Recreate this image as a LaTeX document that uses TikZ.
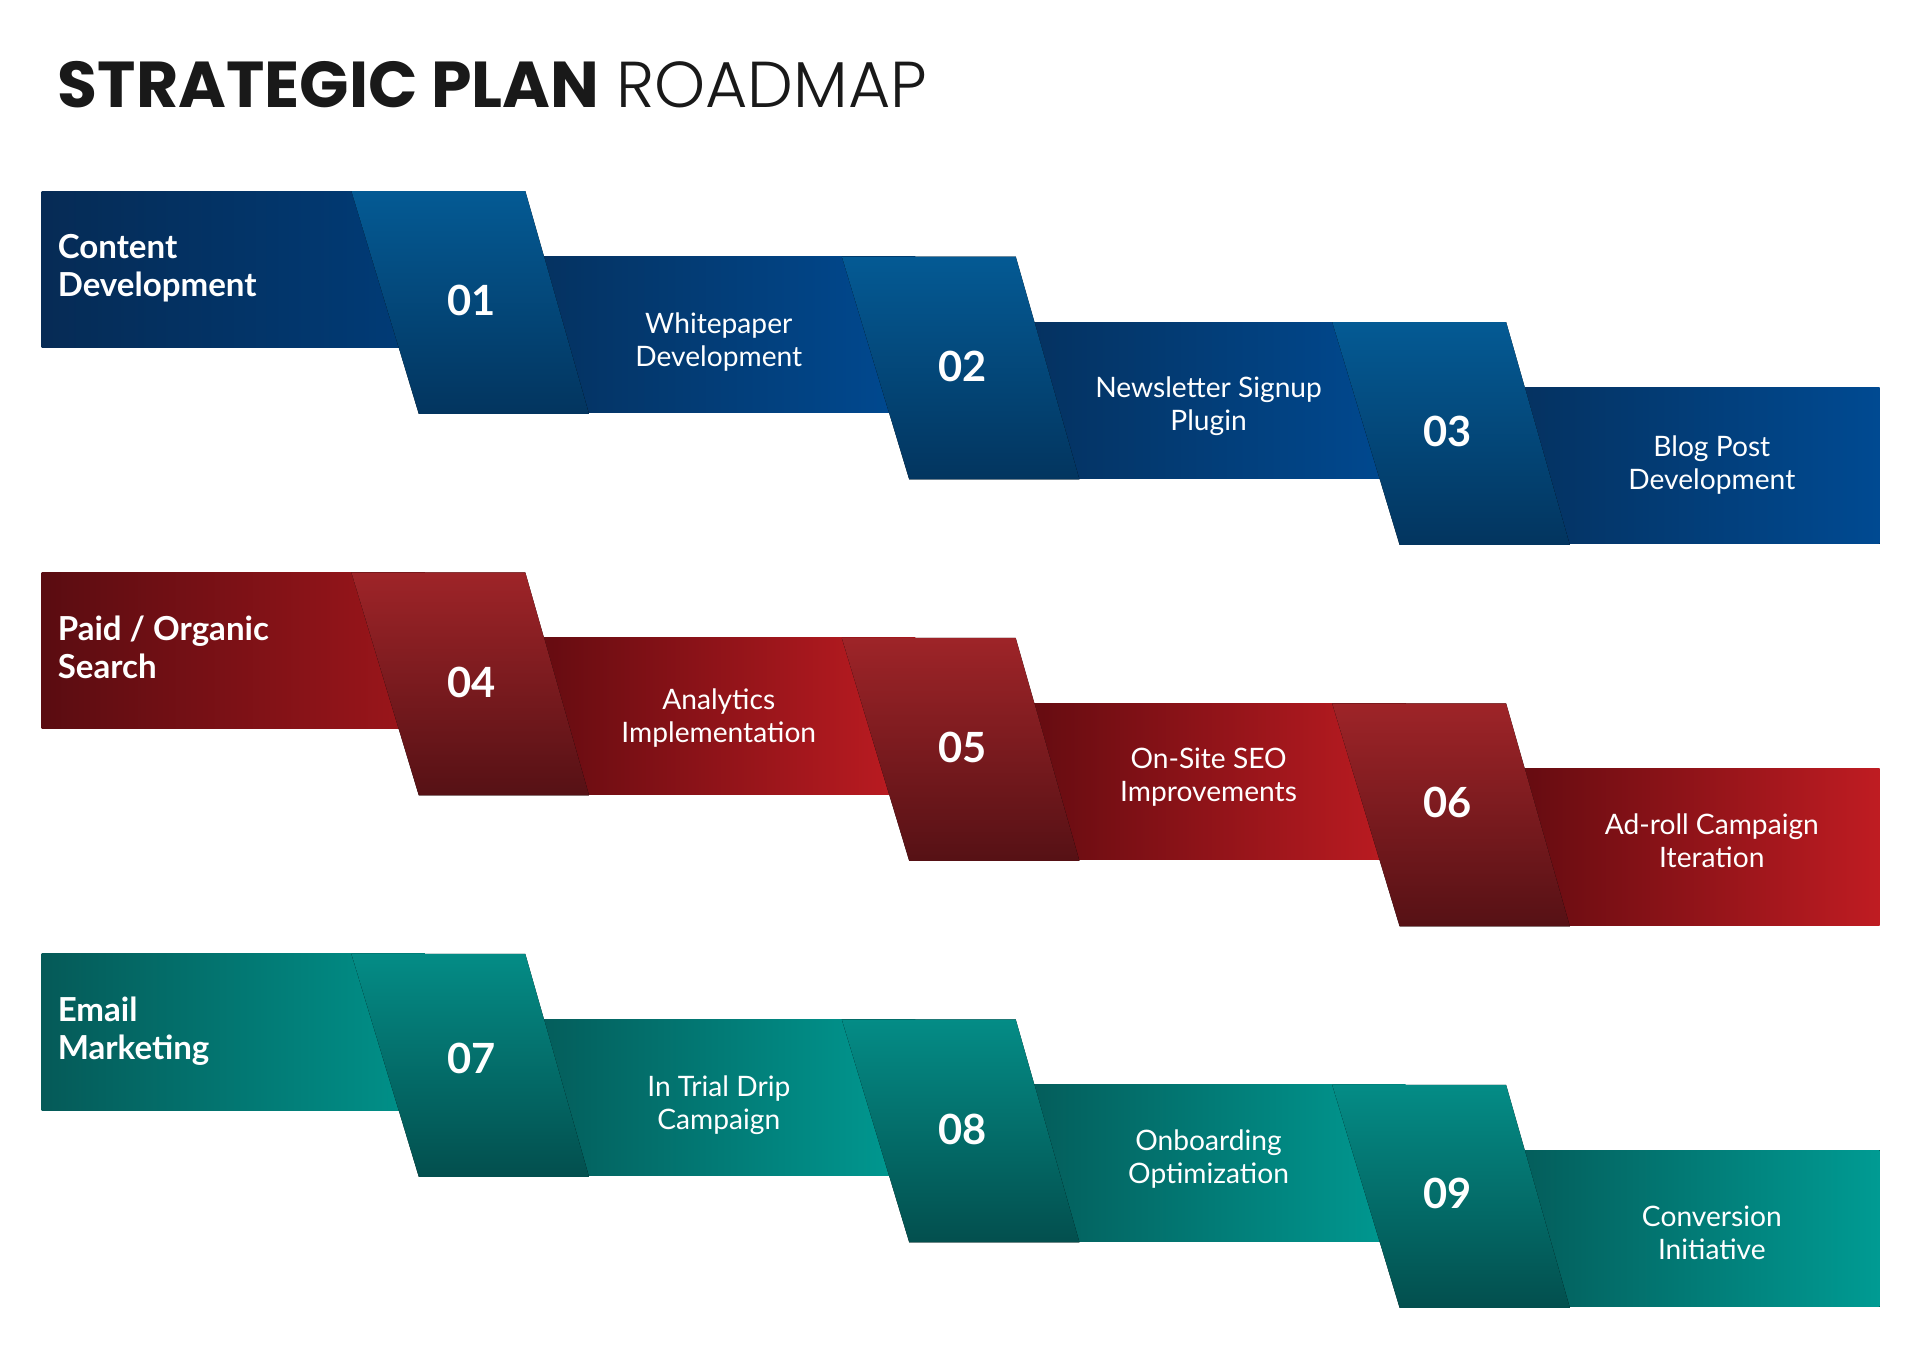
\documentclass[tikz,border=0pt]{standalone}
\usepackage{fontspec}
\usepackage{tikz}
\setmainfont{Lato}
\newfontfamily\titlebold{Poppins}
\IfFontExistsTF{Poppins Light}{\newfontfamily\titlelight{Poppins Light}}{\newfontfamily\titlelight{Poppins}}

\definecolor{bcatl}{HTML}{062B55}
\definecolor{bcatr}{HTML}{003C78}
\definecolor{bpart}{HTML}{045A94}
\definecolor{bparb}{HTML}{03355F}
\definecolor{bstepl}{HTML}{05315F}
\definecolor{bstepr}{HTML}{004A92}
\definecolor{rcatl}{HTML}{5A0C11}
\definecolor{rcatr}{HTML}{9E161B}
\definecolor{rpart}{HTML}{9E2428}
\definecolor{rparb}{HTML}{561115}
\definecolor{rstepl}{HTML}{620B10}
\definecolor{rstepr}{HTML}{BF1C22}
\definecolor{gcatl}{HTML}{055A58}
\definecolor{gcatr}{HTML}{00938B}
\definecolor{gpart}{HTML}{048C86}
\definecolor{gparb}{HTML}{034F4E}
\definecolor{gstepl}{HTML}{045B59}
\definecolor{gstepr}{HTML}{009B93}

\tikzset{
  catlabel/.style={anchor=west, align=left, text=white, inner sep=0pt,
    font=\bfseries\fontsize{27}{31}\selectfont},
  stepno/.style={text=white, inner sep=0pt, font=\bfseries\fontsize{34}{40}\selectfont},
  steptext/.style={align=center, text=white, inner sep=0pt, font=\fontsize{23}{27}\selectfont},
}

% #1 = top of the row, #2 = colour prefix
\newcommand{\roadrow}[2]{%
  \fill[left color=#2catl, right color=#2catr] (34,#1) rectangle (347,{#1+127.5});
  \foreach \k in {1,2,3} {
    \pgfmathsetmacro{\xl}{430+(\k-1)*400.5}
    \pgfmathsetmacro{\xr}{\k<3 ? 347+\k*400.5 : 1535}
    \pgfmathsetmacro{\yt}{#1+\k*53.5}
    \fill[left color=#2stepl, right color=#2stepr] (\xl,\yt) rectangle (\xr,{\yt+127.5});
  }
  \foreach \k in {1,2,3} {
    \pgfmathsetmacro{\xp}{287+(\k-1)*400.5}
    \pgfmathsetmacro{\yp}{#1+(\k-1)*53.5}
    \fill[top color=#2part, bottom color=#2parb] (\xp,\yp) -- ++(142,0) -- ++(52,182) -- ++(-139,0) -- cycle;
  }
}

\begin{document}
\begin{tikzpicture}[x=1pt,y=-1pt]
\useasboundingbox (0,0) rectangle (1568,1109);

\node[anchor=base west, inner sep=0pt, text=black!90] (title) at (47,88)
  {\fontsize{53}{60}\selectfont{\titlebold\bfseries STRATEGIC PLAN} {\titlelight ROADMAP}};

% content row
\roadrow{156}{b}
\node[catlabel] (cat-content) at (47,219) {Content\\Development};
\foreach \num/\nx/\ny/\tx/\ty/\txt in {01/385/245/587/279.5/{Whitepaper\\Development},
    02/786/299/987/331.5/{Newsletter Signup\\Plugin}, 03/1182/352/1398/379.5/{Blog Post\\Development}} {
  \node[stepno] (no-\num) at (\nx,\ny) {\num};
  \node[steptext] (step-\num) at (\tx,\ty) {\txt};
}

% search row
\roadrow{467.5}{r}
\node[catlabel] (cat-search) at (47,528.5) {Paid / Organic\\Search};
\foreach \num/\nx/\ny/\tx/\ty/\txt in {04/385/557/587/586.5/{Analytics\\Implementation},
    05/786/610/987/634.5/{On-Site SEO\\Improvements}, 06/1182/655/1398/686.5/{Ad-roll Campaign\\Iteration}} {
  \node[stepno] (no-\num) at (\nx,\ny) {\num};
  \node[steptext] (step-\num) at (\tx,\ty) {\txt};
}

% email row
\roadrow{779}{g}
\node[catlabel] (cat-email) at (47,842) {Email\\Marketing};
\foreach \num/\nx/\ny/\tx/\ty/\txt in {07/385/864/587/902.5/{In Trial Drip\\Campaign},
    08/786/922/987/946.5/{Onboarding\\Optimization}, 09/1182/975/1398/1006.5/{Conversion\\Initiative}} {
  \node[stepno] (no-\num) at (\nx,\ny) {\num};
  \node[steptext] (step-\num) at (\tx,\ty) {\txt};
}
\end{tikzpicture}
\end{document}
